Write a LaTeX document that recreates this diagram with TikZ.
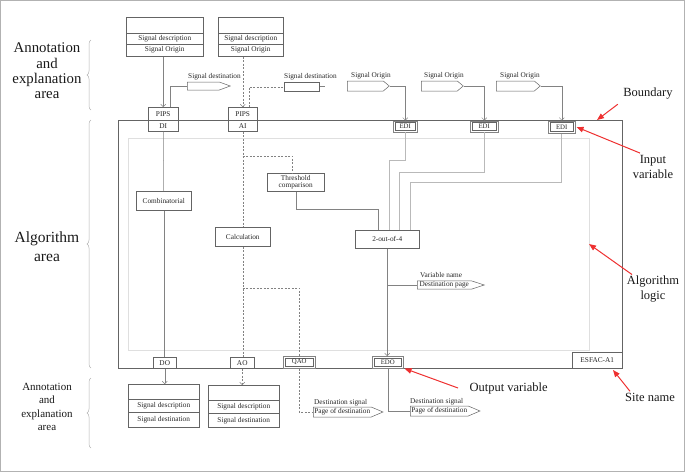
\documentclass[tikz,border=0pt]{standalone}
\usepackage{fontspec}
\setmainfont{Liberation Serif}
\usetikzlibrary{arrows.meta,shapes.symbols,decorations.pathreplacing,calc}
\newcommand{\smf}{\fontsize{7.3}{8.3}\selectfont}
\definecolor{redarrow}{RGB}{238,48,48}
\definecolor{boxline}{RGB}{100,100,100}
\definecolor{wireline}{RGB}{130,130,130}
\begin{document}
\begin{tikzpicture}[x=1pt,y=-1pt,
  lbl/.style={font=\smf, text=black!85, inner sep=0pt},
  cell/.style={draw=boxline, line width=0.5pt, fill=white, inner sep=0pt, font=\smf, text=black!85, anchor=north west},
  dcell/.style={cell, draw=boxline!80, font=\fontsize{6.8}{7.5}\selectfont,
    path picture={\draw[boxline, line width=0.45pt] ([shift={(1.6pt,1.6pt)}]path picture bounding box.south west) rectangle ([shift={(-1.6pt,-1.6pt)}]path picture bounding box.north east);}},
  sig/.style={signal, signal to=east, draw=boxline, line width=0.5pt, fill=white, inner sep=1pt, anchor=west, font=\smf, text=black!85},
  wire/.style={draw=wireline, line width=0.5pt},
  dwire/.style={wire, dash pattern=on 2pt off 1.5pt},
  gwire/.style={draw=gray!55, line width=0.9pt},
  arr/.style={-{Straight Barb[length=2.5pt,width=5pt]}},
  redarr/.style={draw=redarrow, line width=1pt, -{Triangle[length=7pt,width=5.5pt]}},
  big/.style={font=\fontsize{12.5}{14.5}\selectfont, align=center, text=black!90},
  brc/.style={draw=gray!60, line width=0.5pt, decorate, decoration={brace, amplitude=4pt}}
]
\useasboundingbox (0,0) rectangle (685,472);
\draw[gray!60, line width=0.8pt] (0.5,0.5) rectangle (684.5,471.5);

% boundary and logic area
\node[draw=boxline, line width=0.8pt, minimum width=504pt, minimum height=248pt, inner sep=0pt, anchor=north west] (bnd) at (118,120) {};
\node[draw=gray!25, line width=0.6pt, minimum width=461pt, minimum height=212pt, inner sep=0pt, anchor=north west] (logic) at (128,138) {};

% top annotation boxes
\node[cell, minimum width=77pt, minimum height=16pt] (a1) at (126,17) {};
\node[cell, minimum width=77pt, minimum height=11pt] (a1d) at (126,33) {Signal description};
\node[cell, minimum width=77pt, minimum height=12pt] (a1o) at (126,44) {Signal Origin};
\node[cell, minimum width=65pt, minimum height=16pt] (a2) at (218,17) {};
\node[cell, minimum width=65pt, minimum height=11pt] (a2d) at (218,33) {Signal description};
\node[cell, minimum width=65pt, minimum height=12pt] (a2o) at (218,44) {Signal Origin};

% bottom annotation boxes
\node[cell, minimum width=71pt, minimum height=15pt] (b1) at (128,384) {};
\node[cell, minimum width=71pt, minimum height=13pt] (b1d) at (128,399) {Signal description};
\node[cell, minimum width=71pt, minimum height=15pt] (b1s) at (128,412) {Signal destination};
\node[cell, minimum width=71pt, minimum height=15pt] (b2) at (208,385) {};
\node[cell, minimum width=71pt, minimum height=13pt] (b2d) at (208,400) {Signal description};
\node[cell, minimum width=71pt, minimum height=14pt] (b2s) at (208,413) {Signal destination};

% inputs
\node[cell, minimum width=30pt, minimum height=13pt] (pips1) at (148,107) {PIPS};
\node[cell, minimum width=30pt, minimum height=11pt] (di) at (148,120) {DI};
\node[cell, minimum width=29pt, minimum height=13pt] (pips2) at (228,107) {PIPS};
\node[cell, minimum width=29pt, minimum height=11pt] (ai) at (228,120) {AI};
\node[dcell, minimum width=24pt, minimum height=11pt] (edi1) at (393,120.5) {EDI};
\node[dcell, minimum width=28pt, minimum height=11pt] (edi2) at (470,120.5) {EDI};
\node[dcell, minimum width=27pt, minimum height=12.5pt] (edi3) at (548,120.5) {EDI};

% outputs
\node[cell, minimum width=23pt, minimum height=11pt] (do) at (153,357) {DO};
\node[cell, minimum width=24pt, minimum height=11pt] (ao) at (230,357) {AO};
\node[dcell, minimum width=32pt, minimum height=12pt] (qao) at (283,356) {QAO};
\node[dcell, minimum width=31pt, minimum height=12pt] (edo) at (372,356) {EDO};
\node[cell, minimum width=50pt, minimum height=16pt] (site) at (572,352) {ESFAC-A1};

% logic blocks
\node[cell, minimum width=55pt, minimum height=19pt] (comb) at (136,191) {Combinatorial};
\node[cell, minimum width=55pt, minimum height=19pt] (calc) at (215,227) {Calculation};
\node[cell, minimum width=57pt, minimum height=18pt, align=center] (thr) at (267,173) {Threshold\\[-1.5pt]comparison};
\node[cell, minimum width=64pt, minimum height=18pt] (too) at (355,230) {2-out-of-4};

% signal flags
\node[sig, minimum width=43pt, minimum height=8pt, signal pointer angle=40] (sd1) at (187,86) {};
\node[cell, minimum width=35pt, minimum height=9pt] (sd2) at (284,82) {};
\coordinate (sd2t) at (325,86.5);
\node[sig, minimum width=42pt, minimum height=10pt, signal pointer angle=80] (so1) at (347,86) {};
\node[sig, minimum width=42pt, minimum height=10pt, signal pointer angle=80] (so2) at (421,86) {};
\node[sig, minimum width=44pt, minimum height=10pt, signal pointer angle=80] (so3) at (496,86) {};
\node[sig, minimum width=67pt, minimum height=8pt, signal pointer angle=36] (vn) at (417,285) {Destination page};
\node[sig, minimum width=67pt, minimum height=10pt, signal pointer angle=46] (ds1) at (313,412) {Page of destination};
\node[sig, minimum width=67pt, minimum height=10pt, signal pointer angle=46] (ds2) at (410,411) {Page of destination};

\node[lbl, anchor=base west] (t1) at (188,78) {Signal destination};
\node[lbl, anchor=base west] (t2) at (284,78) {Signal destination};
\node[lbl, anchor=base west] (t3) at (351,77) {Signal Origin};
\node[lbl, anchor=base west] (t4) at (424,77) {Signal Origin};
\node[lbl, anchor=base west] (t5) at (500,77) {Signal Origin};
\node[lbl, anchor=base west] (t6) at (420,277) {Variable name};
\node[lbl, anchor=base west] (t7) at (314,404) {Destination signal};
\node[lbl, anchor=base west] (t8) at (410,403) {Destination signal};

% junction coordinates
\coordinate (j1) at (242.5,156);
\coordinate (j2) at (242.5,288);
\coordinate (j3) at (387,285);

% connectors: annotation to inputs
\draw[wire, arr] (a1o.south -| pips1.north) -- (pips1.north);
\draw[dwire, arr] (a2o.south -| pips2.north) -- (pips2.north);
\draw[wire] ([xshift=7pt]pips1.north) |- (sd1.west);
\draw[dwire] ([xshift=6pt]pips2.north) |- (sd2.west);
\draw[wire] (sd2.east |- sd2t) -- (sd2t);
\draw[wire, arr] (so1.east) -| (edi1.north);
\draw[wire, arr] (so2.east) -| (edi2.north);
\draw[wire, arr] (so3.east) -| (edi3.north);

% logic wiring
\draw[wire] (di.south) -- (comb.north);
\draw[wire] (comb.south) -- (comb.south |- do.north);
\draw[dwire] (ai.south) -- (calc.north);
\draw[dwire] (j1) -| ([xshift=-3.5pt]thr.north);
\draw[dwire] (calc.south) -- (calc.south |- ao.north);
\draw[dwire] (j2) -| (qao.north);
\draw[wire] (thr.south) |- ([xshift=-9pt,yshift=21pt]too.north) -- ([xshift=-9pt]too.north);
\draw[gwire] (edi1.south) |- ([xshift=2pt,yshift=70pt]too.north) -- ([xshift=2pt]too.north);
\draw[gwire] (edi2.south) |- ([xshift=12pt,yshift=58pt]too.north) -- ([xshift=12pt]too.north);
\draw[gwire] (edi3.south) |- ([xshift=23pt,yshift=48pt]too.north) -- ([xshift=23pt]too.north);
\draw[wire, arr] (too.south) -- (too.south |- edo.north);
\draw[wire] (j3) -- (vn.west);

% outputs to annotation
\draw[wire, arr] (do.south) -- (do.south |- b1.north);
\draw[dwire, arr] (ao.south) -- (ao.south |- b2.north);
\draw[dwire] (qao.south) |- (ds1.west);
\draw[wire] (edo.south) |- (ds2.west);

% right-hand labels
\node[big] (lb) at (648,94) {Boundary};
\node[big] (li) at (653,167) {Input\\variable};
\node[big] (ll) at (653,289) {Algorithm\\logic};
\node[big] (ls) at (650,397) {Site name};
\node[big, anchor=west] (lo) at (466,388) {Output variable};
\draw[redarr] (lb.south west) ++(-2,1) coordinate (r1) (r1) -- (597,120);
\draw[redarr] ([xshift=-13pt,yshift=-1pt]li.north) -- ([xshift=1pt]edi3.east);
\draw[redarr] ([xshift=-21pt,yshift=-2pt]ll.north) -- (589,244);
\draw[redarr] ([xshift=-20pt,yshift=-2pt]ls.north) -- (613,370);
\draw[redarr] ([xshift=-8pt]lo.west) -- ([xshift=1pt]edo.south east);

% left-hand area labels
\node[font=\fontsize{14.8}{15.3}\selectfont, align=center, text=black!90] (an1) at (47,71) {Annotation\\and\\explanation\\area};
\node[font=\fontsize{15.5}{19}\selectfont, align=center, text=black!90] (alg) at (47,247) {Algorithm\\area};
\node[font=\fontsize{11}{13.5}\selectfont, align=center, text=black!90] (an2) at (47,407) {Annotation\\and\\explanation\\area};
\draw[brc] (91,110) -- (91,40);
\draw[brc] (91,368) -- (91,120);
\draw[brc] (91,448) -- (91,378);
\end{tikzpicture}
\end{document}
